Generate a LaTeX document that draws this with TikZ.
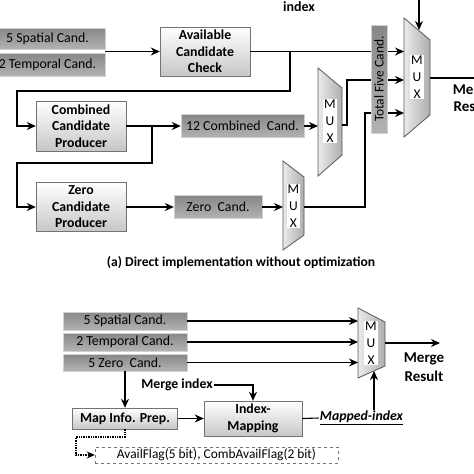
\documentclass[tikz,border=0pt]{standalone}
\usepackage{fontspec}
\setmainfont{Carlito}
\usetikzlibrary{arrows.meta,calc}
\begin{document}
\begin{tikzpicture}[x=1pt,y=-1pt,
  font=\fontsize{13.8}{16}\selectfont,
  arr/.style={line width=1.4pt,-{Stealth[length=9pt,width=8pt]}},
  wire/.style={line width=1.4pt},
  dotarr/.style={line width=1.4pt,densely dotted,-{Stealth[length=8pt,width=7pt]}},
  graybox/.style={draw=black!18, top color=black!47, bottom color=black!30, inner sep=0pt, align=center},
  procbox/.style={draw=black!55, top color=white, bottom color=black!22, inner sep=0pt, align=center, font=\fontsize{13.8}{16.5}\selectfont\bfseries},
  muxshape/.style={draw=black!65, line width=0.8pt, left color=black!8, right color=black!32},
  muxtext/.style={fill=white, inner sep=1pt, align=center, font=\fontsize{13.5}{16.8}\selectfont},
  boldtext/.style={inner sep=1pt, align=center, font=\fontsize{14}{16}\selectfont\bfseries},
  ]
\useasboundingbox (0,0) rectangle (474,474);
\fill[white] (0,0) rectangle (474,474);

% ---------- top part ----------
\node[graybox, minimum width=115pt, minimum height=21pt] (sp1) at (47.5,38.5) {5 Spatial Cand.};
\node[graybox, minimum width=115pt, minimum height=23pt] (tp1) at (47.5,64.5) {2 Temporal Cand.};
\node[procbox, minimum width=90pt, minimum height=49pt] (avail) at (205,51.5) {Available\\Candidate\\Check};
\coordinate (in1) at (sp1.south east |- avail.west);
\draw[arr] (in1) -- (avail.west);

\node[procbox, minimum width=90pt, minimum height=50pt] (ccp) at (81,126) {Combined\\Candidate\\Producer};
\node[procbox, minimum width=90pt, minimum height=49pt] (zcp) at (81,207) {Zero\\Candidate\\Producer};
\node[graybox, minimum width=123pt, minimum height=23pt] (c12) at (242.5,126) {12 Combined~ Cand.};
\node[graybox, minimum width=88pt, minimum height=23pt] (zc) at (218,207) {Zero~ Cand.};

% big mux
\coordinate (bm1) at (404,18); \coordinate (bm2) at (430,40);
\coordinate (bm3) at (430,115); \coordinate (bm4) at (404,137);
\draw[muxshape] (bm1)--(bm2)--(bm3)--(bm4)--cycle;
\node[muxtext] (bmt) at (417,77) {M\\U\\X};
% mux 1
\coordinate (m1a) at (318,68); \coordinate (m1b) at (342,88);
\coordinate (m1c) at (342,155); \coordinate (m1d) at (318,176);
\draw[muxshape] (m1a)--(m1b)--(m1c)--(m1d)--cycle;
\node[muxtext] (m1t) at (330,121) {M\\U\\X};
% mux 2
\coordinate (m2a) at (283,161); \coordinate (m2b) at (304,177);
\coordinate (m2c) at (304,235); \coordinate (m2d) at (283,250);
\draw[muxshape] (m2a)--(m2b)--(m2c)--(m2d)--cycle;
\node[muxtext] (m2t) at (293.5,206) {M\\U\\X};

% connectors
\draw[arr] (avail.east) -- (avail.east -| bm1);
\coordinate (j1) at (290,51.5); \coordinate (b1) at (17,91);
\draw[arr] (j1) -- (j1 |- b1) -- (b1) -- (b1 |- ccp.west) -- (ccp.west);
\draw[arr] (ccp.east) -- (c12.west);
\coordinate (j2) at (152,126); \coordinate (b2) at (17,163);
\draw[arr] (j2) -- (j2 |- b2) -- (b2) -- (b2 |- zcp.west) -- (zcp.west);
\draw[arr] (zcp.east) -- (zc.west);
\draw[arr] (c12.east) -- (c12.east -| m1a);
\draw[arr] (zc.east) -- (zc.east -| m2a);
\coordinate (o1) at (342,125); \coordinate (k1) at (347,80);
\draw[arr] (o1) -| (k1) -- (k1 -| bm1);
\coordinate (o2) at (304,207); \coordinate (k2) at (365,113);
\draw[arr] (o2) -| (k2) -- (k2 -| bm1);

\node[graybox, rotate=90, minimum width=108pt, minimum height=16pt, font=\fontsize{13.5}{15}\selectfont] (tot) at (379,79) {Total Five Cand.};

% top index arrow and output
\node[boldtext] (mi) at (299,7) {index};
\coordinate (tin) at (419,-6); \coordinate (tt) at (419,30);
\draw[arr] (tin) -- (tt);
\coordinate (bout) at (480,78);
\draw[wire] (bm2 |- bout) -- (bout);
\node[boldtext, font=\fontsize{15}{17}\selectfont\bfseries] (mr) at (473,98.5) {Merge\\Result};

\node[font=\fontsize{13.6}{15}\selectfont\bfseries] (cap) at (241,263) {(a) Direct implementation without optimization};

% ---------- bottom part ----------
\node[graybox, minimum width=124pt, minimum height=18pt] (bsp) at (125,321) {5 Spatial Cand.};
\node[graybox, minimum width=124pt, minimum height=18pt] (btp) at (125,342) {2 Temporal Cand.};
\node[graybox, minimum width=124pt, minimum height=17pt] (bzc) at (125,362.5) {5 Zero~ Cand.};

\coordinate (n1) at (358,308); \coordinate (n2) at (385,322);
\coordinate (n3) at (385,366); \coordinate (n4) at (358,378);
\draw[muxshape] (n1)--(n2)--(n3)--(n4)--cycle;
\node[muxtext] (nt) at (371,343) {M\\U\\X};

\draw[arr] (bsp.east) -- (bsp.east -| n1);
\draw[arr] (btp.east) -- (btp.east -| n1);
\draw[arr] (bzc.east) -- (bzc.east -| n1);
\coordinate (bo) at (440,343);
\draw[arr] (n2 |- bo) -- (bo);
\node[boldtext, font=\fontsize{15}{19}\selectfont\bfseries] (bmr) at (424,367.5) {Merge\\Result};

\node[procbox, minimum width=105pt, minimum height=21pt] (mip) at (125,418.5) {Map Info. Prep.};
\node[procbox, minimum width=98pt, minimum height=35pt] (im) at (253,418.5) {Index-\\Mapping};
\draw[arr] (bzc.south) -- (mip.north);
\draw[arr] (mip.east) -- (im.west);
\node[boldtext, font=\fontsize{13.8}{16}\selectfont\bfseries] (midx) at (177,385) {Merge index};
\draw[arr] (midx.east) -| (im.north);
\node[inner sep=1pt, font=\fontsize{13.8}{16}\selectfont] (mapped) at (361.5,418) {\underline{\textbf{\textit{Mapped-index}}}};
\draw[line width=1.1pt] (im.east) -- (mapped.west);
\coordinate (nb) at (374,371);
\draw[arr] (mapped.north -| nb) -- (nb);

\node[draw=black!55, dashed, minimum width=243pt, minimum height=16pt, inner sep=0pt, font=\fontsize{13.4}{15}\selectfont] (flags) at (216.5,455) {AvailFlag(5 bit), CombAvailFlag(2 bit)};
\coordinate (d1) at (76,437);
\draw[dotarr] (mip.south) |- (d1) |- (flags.west);
\end{tikzpicture}
\end{document}
